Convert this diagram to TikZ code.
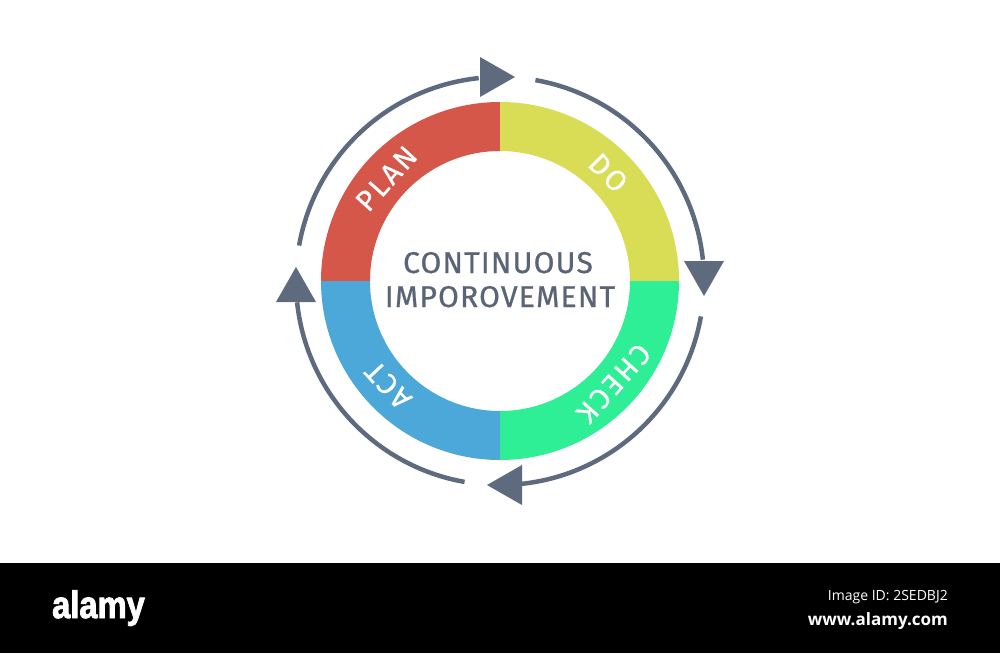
\documentclass[tikz,border=0pt]{standalone}
\usepackage{fontspec}
\setmainfont{Fira Sans}
\newfontfamily\centerfont{Fira Sans}[LetterSpace=4,FakeBold=0.8]
\newfontfamily\labelfont{Fira Sans}[LetterSpace=9,FakeBold=0.5]
\newfontfamily\logofont{Liberation Sans}[FakeBold=2.5]
\newfontfamily\wmfont{Open Sans}
\definecolor{planred}{HTML}{D5574A}
\definecolor{doyellow}{HTML}{D9DC55}
\definecolor{checkgreen}{HTML}{2EEE96}
\definecolor{actblue}{HTML}{4BA8D8}
\definecolor{arrowgray}{HTML}{5E6A7D}
\definecolor{textgray}{HTML}{5B6475}
\tikzset{
  seglabel/.style={text=white,font=\labelfont\fontsize{29}{29}\selectfont,inner sep=0pt,anchor=center},
  cycleline/.style={draw=arrowgray,line width=4.5pt},
  cyclehead/.style={fill=arrowgray},
  maintext/.style={text=textgray,font=\centerfont\fontsize{30}{30}\selectfont,inner sep=0pt,anchor=base},
}
\begin{document}
\begin{tikzpicture}[x=1pt,y=1pt]
\useasboundingbox (-500,-372) rectangle (500,281);
\fill[white] (-500,-372) rectangle (500,281);
% ring segments
\fill[planred] (0,179pt) arc (90:180:179pt) -- (-130pt,0) arc (180:90:130pt) -- cycle;
\fill[doyellow] (0,179pt) arc (90:0:179pt) -- (130pt,0) arc (0:90:130pt) -- cycle;
\fill[checkgreen] (179pt,0) arc (0:-90:179pt) -- (0,-130pt) arc (-90:0:130pt) -- cycle;
\fill[actblue] (-179pt,0) arc (180:270:179pt) -- (0,-130pt) arc (270:180:130pt) -- cycle;
% cycle arrows
\foreach \r/\s in {0/0,-90/0,-180/2,-270/1}{
  \begin{scope}[rotate=\r]
    \draw[cycleline] (170:204pt) arc (170:96:204pt);
    \fill[cyclehead] (-20-\s,184) -- (-20-\s,224) -- (15-\s,204) -- cycle;
  \end{scope}
}
% labels
\node[seglabel,rotate=48] (plan) at (138:153pt) {PLAN};
\node[seglabel,rotate=-45] (do) at (45:153pt) {DO};
\node[seglabel,rotate=-132] (check) at (-42:153pt) {CHECK};
\node[seglabel,rotate=133] (act) at (223:153pt) {ACT};
% centre text
\node[maintext] (l1) at (-2,8) {CONTINUOUS};
\node[maintext] (l2) at (0,-26) {IMPOROVEMENT};
% bottom bar
\fill[black] (-500,-372) rectangle (500,-282);
\node[anchor=base west,inner sep=0pt,text=white,font=\logofont\bfseries\fontsize{38}{38}\selectfont,xscale=0.86] (logo) at (-448,-337) {alamy};
\node[anchor=base east,inner sep=0pt,text=white,font=\wmfont\fontsize{14}{14}\selectfont] (imgid) at (448,-319) {Image ID: 2SEDBJ2};
\node[anchor=base east,inner sep=0pt,text=white,font=\wmfont\bfseries\fontsize{17}{17}\selectfont] (url) at (448,-344) {www.alamy.com};
\end{tikzpicture}
\end{document}
